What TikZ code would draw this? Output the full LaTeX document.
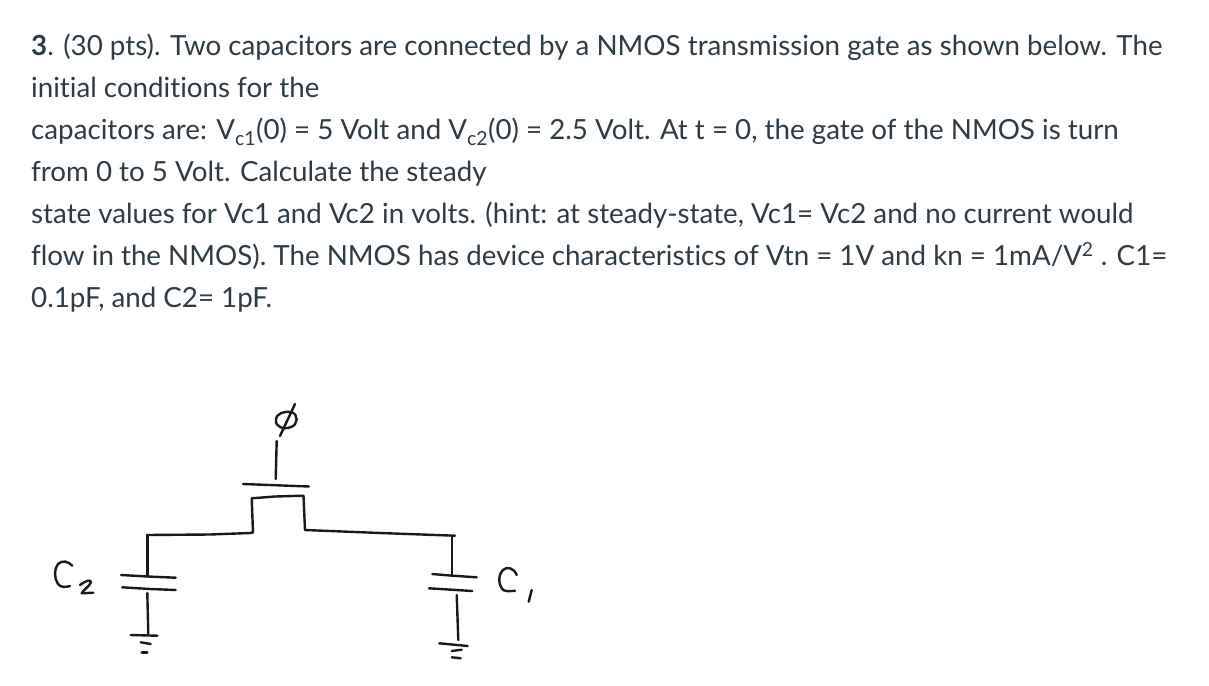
\documentclass[tikz,border=0pt]{standalone}
\usepackage{fontspec}
\setmainfont[Ligatures={NoCommon,TeX},Contextuals=NoAlternate]{Lato}
\definecolor{canvastext}{HTML}{2D3B45}
\tikzset{txt/.style={anchor=base west,inner sep=0pt,font=\fontsize{27.72pt}{32pt}\selectfont,text=canvastext},ink/.style={line width=2.4pt,line cap=round,line join=round,black!90}}
\begin{document}
\begin{tikzpicture}[x=1pt,y=-1pt]
\useasboundingbox (0,0) rectangle (1209,685);
\node[txt] (l1) at (31,55.7) {\textbf{3}. (30 pts). Two capacitors are connected by a NMOS transmission gate as shown below. The};
\node[txt] (l2) at (31,97.7) {initial conditions for the};
\node[txt] (l3) at (31,139.7) {capacitors are: V\textsubscript{c1}(0) = 5 Volt and V\textsubscript{c2}(0) = 2.5 Volt. At t = 0, the gate of the NMOS is turn};
\node[txt] (l4) at (31,181.7) {from 0 to 5 Volt. Calculate the steady};
\node[txt] (l5) at (31,223.7) {state values for Vc1 and Vc2 in volts. (hint: at steady-state, Vc1= Vc2 and no current would};
\node[txt] (l6) at (31,265.7) {flow in the NMOS). The NMOS has device characteristics of Vtn = 1V and kn = 1mA/V\textsuperscript{2} . C1=};
\node[txt] (l7) at (31,307.7) {0.1pF, and C2= 1pF.};
% phi
\draw[ink] (276,420) .. controls (276,413) and (285,411) .. (291,412) .. controls (299,414) and (298,425) .. (291,427) .. controls (284,430) and (275,427) .. (276,420);
\draw[ink] (295,404) -- (280,436);
% gate
\draw[ink] (276.7,441) -- (275.7,479);
\draw[ink] (243,484) -- (309,486.5);
% channel
\draw[ink] (147,535) -- (210,534.5) -- (250,533) -- (253,532.5) -- (251.7,498.3) -- (275,496.5) -- (303.5,495.7) -- (305,530) -- (380,533) -- (455,535.7);
% C2
\draw[ink] (147.3,535) -- (147.3,576.5);
\draw[ink] (121,575) -- (148,576.5) -- (175.7,577.7);
\draw[ink] (122.3,587.3) -- (150,589) -- (175.7,590);
\draw[ink] (147.3,593) -- (148.3,634);
\draw[ink] (130.7,635) -- (157.3,635.7);
\draw[ink] (140.7,642.3) -- (150.7,644);
\draw[ink] (141.7,652.3) -- (147.3,652.3);
% C1
\draw[ink] (451.7,536) -- (451.7,575);
\draw[ink] (432.3,574) -- (450,575.5) -- (476.7,577.3);
\draw[ink] (429,588.3) -- (472.3,591);
\draw[ink] (456.7,595) -- (458.3,640);
\draw[ink] (439.3,643.3) -- (467.7,646);
\draw[ink] (451.7,651) -- (461.7,649.7);
\draw[ink] (451.7,657.3) -- (460.7,658.3);
% C2 label
\draw[ink] (72.3,565.7) .. controls (68,561) and (62,560) .. (58,564) .. controls (54,569) and (54,578) .. (58,584) .. controls (61,588) and (66,587) .. (70,586);
\draw[ink] (80,585) .. controls (85,581) and (91,579) .. (91,582) .. controls (90,586) and (83,590) .. (81.7,593.3) -- (93.3,592.7);
% C1 label
\draw[ink] (516.7,575) .. controls (514,568) and (507,566) .. (503,570) .. controls (498,575) and (498,585) .. (503.3,590) .. controls (507,592) and (511,591) .. (515,590.7);
\draw[ink] (531.7,590) -- (528.7,601.7);
\end{tikzpicture}
\end{document}
